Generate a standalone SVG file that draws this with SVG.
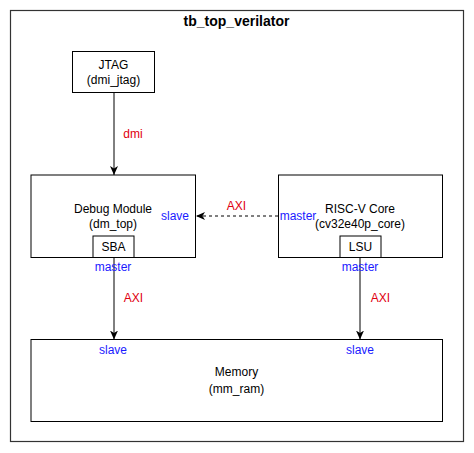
<svg xmlns="http://www.w3.org/2000/svg" width="474" height="453" viewBox="0 0 474 453">
<style>
  .box{fill:#fff;stroke:#000;stroke-width:1}
  .t{font-family:"Liberation Sans",Arial,sans-serif;font-size:12px;fill:#000;text-anchor:middle}
  .red{fill:#e0000f}
  .blue{fill:#1a1aff}
  .ln{stroke:#000;stroke-width:1;fill:none}
</style>
<defs>
  <marker id="arr" viewBox="0 0 9 8" refX="9" refY="4" markerWidth="9" markerHeight="8" markerUnits="userSpaceOnUse" orient="auto">
    <path d="M0,0 L9,4 L0,8 L2.5,4 Z" fill="#000"/>
  </marker>
</defs>
<rect width="474" height="453" fill="#fff"/>
<g id="frame">
  <rect x="10.5" y="10.5" width="453" height="431" fill="#fff" stroke="#333" stroke-width="1.2"/>
  <text x="236.5" y="25.5" class="t" style="font-weight:bold;font-size:14px">tb_top_verilator</text>
</g>
<g id="jtag">
  <rect x="72.5" y="51.5" width="82" height="41" class="box"/>
  <text x="113.5" y="68.5" class="t">JTAG</text>
  <text x="113.5" y="83.5" class="t">(dmi_jtag)</text>
</g>
<g id="debug">
  <rect x="31" y="175" width="164.5" height="82.5" class="box"/>
  <text x="113" y="212.5" class="t">Debug Module</text>
  <text x="113" y="227.5" class="t">(dm_top)</text>
  <text x="175" y="219.5" class="t blue">slave</text>
  <g id="sba">
    <rect x="93" y="236" width="41" height="21.5" class="box"/>
    <text x="113.5" y="250.5" class="t">SBA</text>
  </g>
</g>
<g id="core">
  <rect x="278.5" y="175" width="164" height="82.5" class="box"/>
  <text x="360" y="212.5" class="t">RISC-V Core</text>
  <text x="360" y="227.5" class="t">(cv32e40p_core)</text>
  <text x="298" y="219.5" class="t blue">master</text>
  <g id="lsu">
    <rect x="340" y="236" width="41" height="21.5" class="box"/>
    <text x="360.5" y="250.5" class="t">LSU</text>
  </g>
</g>
<g id="memory">
  <rect x="31" y="339.5" width="411.5" height="82" class="box"/>
  <text x="113" y="353.5" class="t blue">slave</text>
  <text x="360" y="353.5" class="t blue">slave</text>
  <text x="236.5" y="376" class="t">Memory</text>
  <text x="236.5" y="392.5" class="t">(mm_ram)</text>
</g>
<g id="connectors">
  <line x1="114" y1="92.5" x2="114" y2="175" class="ln" marker-end="url(#arr)"/>
  <text x="133" y="138" class="t red">dmi</text>
  <line x1="278" y1="216" x2="196" y2="216" class="ln" stroke-dasharray="3 3" marker-end="url(#arr)"/>
  <text x="236.5" y="209.5" class="t red">AXI</text>
  <line x1="114" y1="257.5" x2="114" y2="339.5" class="ln" marker-end="url(#arr)"/>
  <text x="113" y="271" class="t blue">master</text>
  <text x="133.5" y="302" class="t red">AXI</text>
  <line x1="360" y1="257.5" x2="360" y2="339.5" class="ln" marker-end="url(#arr)"/>
  <text x="360" y="271" class="t blue">master</text>
  <text x="380.5" y="302" class="t red">AXI</text>
</g>
</svg>
